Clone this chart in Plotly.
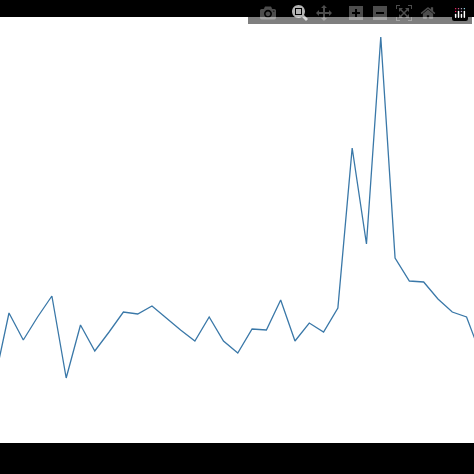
import plotly.graph_objects as go

idx = list(range(35))
vals = [63, 130, 103, 126, 147, 65, 118, 92, 111, 131, 129, 137, 125, 113, 102, 126, 102, 90, 114, 113, 143, 102, 120, 111, 135, 295, 199, 406, 185, 162, 161, 144, 131, 126, 88]

fig = go.Figure(go.Scatter(x=idx, y=vals, mode="lines", line=dict(color="#3a78a8", width=1.3)))
fig.update_layout(width=474, height=474, margin=dict(l=0, r=0, t=17, b=31),
                  paper_bgcolor="black", plot_bgcolor="white", showlegend=False)
fig.update_xaxes(visible=False, range=[0.371, 33.52])
fig.update_yaxes(visible=False, range=[0, 426])
fig.write_html("out.html")

with open("out.html", encoding="utf-8") as f:
    html = f.read()
html = html.replace("<head>", "<head><style>html,body{margin:0;padding:0;overflow:hidden;}</style>", 1)
with open("out.html", "w", encoding="utf-8") as f:
    f.write(html)
